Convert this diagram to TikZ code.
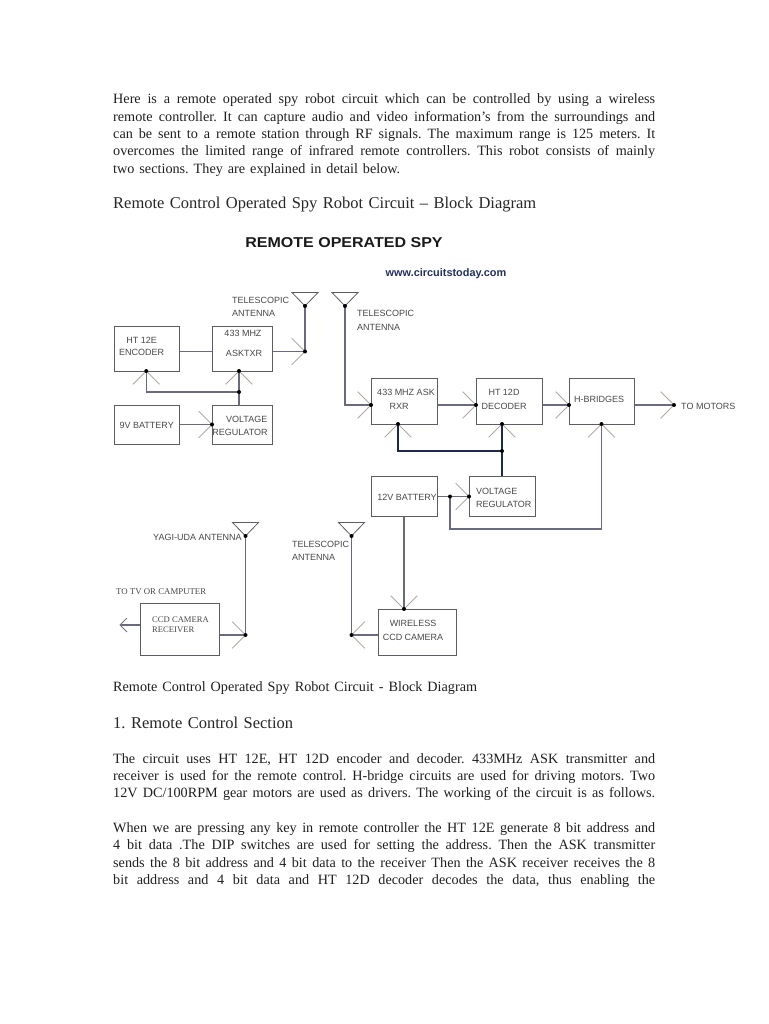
\documentclass[tikz,border=0pt]{standalone}
\usepackage{fontspec}
\setmainfont{Liberation Serif}
\newfontfamily\labelfont{Liberation Sans}
\newfontfamily\titlefont[FakeStretch=1.12]{Liberation Sans}
\newcommand\bodygap{\spaceskip=.35em plus .4em minus .05em\relax}
\newcommand\headgap{\spaceskip=.33em\relax}
\definecolor{wirecol}{HTML}{6A6A7E}
\definecolor{barbcol}{HTML}{B3A9A2}
\definecolor{boxcol}{HTML}{5C5D63}
\definecolor{urlcol}{HTML}{23305E}
\tikzset{
  block/.style={draw=boxcol, line width=1.1pt, inner sep=0pt, anchor=north west},
  wire/.style={draw=wirecol, line width=1.1pt},
  darkwire/.style={draw=urlcol!85!black, line width=1.1pt},
  lbl/.style={inner sep=0pt, text=black!72, font=\labelfont\fontsize{9}{10}\selectfont},
  lblw/.style={lbl, anchor=west},
  bodyline/.style={inner sep=0pt, anchor=base west, text=black!88, font=\fontsize{14.2}{16}\selectfont},
  headline/.style={inner sep=0pt, anchor=base west, text=black!85, font=\fontsize{16.5}{19}\selectfont},
  pics/barbdot/.style={code={
    \draw[barbcol, line width=0.8pt] (-13.3,13.3) -- (0,0) -- (-13.3,-13.3);
    \fill[black] (0,0) circle (2);
  }},
  pics/aerial/.style={code={
    \draw[boxcol, line width=0.8pt] (-13,-13.5) -- (13,-13.5) -- (0,0) -- cycle;
    \fill[black] (0,0) circle (2);
  }}
}
\begin{document}
\frenchspacing
\begin{tikzpicture}[x=1pt, y=-1pt]
  \useasboundingbox (0,0) rectangle (768,1024);

  % Page text
  \foreach \y/\t [count=\i] in {
    104/{Here is a remote operated spy robot circuit which can be controlled by using a wireless},
    121.5/{remote controller. It can capture audio and video information’s from the surroundings and},
    139/{can be sent to a remote station through RF signals. The maximum range is 125 meters. It},
    156/{overcomes the limited range of infrared remote controllers. This robot consists of mainly},
    763/{The circuit uses HT 12E, HT 12D encoder and decoder. 433MHz ASK transmitter and},
    780/{receiver is used for the remote control. H-bridge circuits are used for driving motors. Two},
    797/{12V DC/100RPM gear motors are used as drivers. The working of the circuit is as follows.},
    832/{When we are pressing any key in remote controller the HT 12E generate 8 bit address and},
    849.5/{4 bit data .The DIP switches are used for setting the address. Then the ASK transmitter},
    867/{sends the 8 bit address and 4 bit data to the receiver Then the ASK receiver receives the 8},
    884.5/{bit address and 4 bit data and HT 12D decoder decodes the data, thus enabling the}}
    \node[bodyline] (line\i) at (113,\y) {\bodygap\hbox to 542pt{\t}};
  \node[bodyline] (lastline) at (113,173.5) {\bodygap two sections. They are explained in detail below.};
  \node[headline] (heading) at (113,209) {\headgap Remote Control Operated Spy Robot Circuit – Block Diagram};
  \node[bodyline] (caption) at (113,691) {\bodygap Remote Control Operated Spy Robot Circuit - Block Diagram};
  \node[headline] (section) at (113,728) {\headgap 1. Remote Control Section};

  % Title
  \node[inner sep=0pt, font=\titlefont\bfseries\fontsize{14.3}{16}\selectfont, text=black!90] (title) at (344,243) {REMOTE OPERATED SPY};
  \node[inner sep=0pt, font=\labelfont\bfseries\fontsize{10.9}{12}\selectfont, text=urlcol] (url) at (446,273.5) {www.circuitstoday.com};

  % Blocks
  \node[block, minimum width=65.5pt, minimum height=45pt] (enc) at (113.5,326) {};
  \node[block, minimum width=60pt, minimum height=45pt] (txr) at (212,326) {};
  \node[block, minimum width=65.5pt, minimum height=39pt] (batnine) at (113.5,405) {};
  \node[block, minimum width=60pt, minimum height=39pt] (regtx) at (212,405) {};
  \node[block, minimum width=66pt, minimum height=46pt] (rxr) at (371,378) {};
  \node[block, minimum width=66pt, minimum height=46pt] (dec) at (476,378) {};
  \node[block, minimum width=65pt, minimum height=46pt] (hbr) at (569,378) {};
  \node[block, minimum width=66pt, minimum height=40pt] (battwelve) at (371,476) {};
  \node[block, minimum width=66pt, minimum height=40pt] (regrx) at (469,476) {};
  \node[block, minimum width=79pt, minimum height=52pt] (ccdrx) at (140,603) {};
  \node[block, minimum width=78pt, minimum height=46pt] (cam) at (378,609) {};

  % Block labels
  \node[lbl] (t1) at (141.7,340) {HT 12E};
  \node[lbl] (t2) at (141.7,352.7) {ENCODER};
  \node[lbl] (t3) at (243,333) {433 MHZ};
  \node[lbl] (t4) at (244,353) {ASKTXR};
  \node[lbl] (t5) at (146.7,425.7) {9V BATTERY};
  \node[lbl] (t6) at (246.7,419) {VOLTAGE};
  \node[lbl] (t7) at (240,432) {REGULATOR};
  \node[lbl] (t8) at (406,392) {433 MHZ ASK};
  \node[lbl] (t9) at (399,406) {RXR};
  \node[lbl] (t10) at (504,392) {HT 12D};
  \node[lbl] (t11) at (504,406) {DECODER};
  \node[lbl] (t12) at (599,399) {H-BRIDGES};
  \node[lbl] (t13) at (407,497) {12V BATTERY};
  \node[lblw] (t14) at (476,491) {VOLTAGE};
  \node[lblw] (t15) at (476,504) {REGULATOR};
  \node[lbl] (t16) at (413,623) {WIRELESS};
  \node[lbl] (t17) at (413,637) {CCD CAMERA};
  \node[lblw, font=\fontsize{8.6}{10}\selectfont] (t18) at (152,620) {CCD CAMERA};
  \node[lblw, font=\fontsize{8.6}{10}\selectfont] (t19) at (152,630) {RECEIVER};

  % Free labels
  \node[lblw] (a1) at (232,300) {TELESCOPIC};
  \node[lblw] (a2) at (232,313) {ANTENNA};
  \node[lblw] (a3) at (357,313) {TELESCOPIC};
  \node[lblw] (a4) at (357,327) {ANTENNA};
  \node[lblw] (a5) at (292,544) {TELESCOPIC};
  \node[lblw] (a6) at (292,557) {ANTENNA};
  \node[lblw] (a7) at (153,537) {YAGI-UDA ANTENNA};
  \node[lblw] (a8) at (681,406) {TO MOTORS};
  \node[lblw, font=\fontsize{8.8}{10}\selectfont] (a9) at (116,592) {TO TV OR CAMPUTER};

  % Junctions and antenna feet
  \coordinate (feedone) at (305,306);
  \coordinate (feedtwo) at (345,306);
  \coordinate (feedyagi) at (245.5,536);
  \coordinate (feedcam) at (351.5,536);
  \coordinate (txout) at (305,351.5);
  \coordinate (enctop) at (146.25,371);
  \coordinate (txin) at (239,371);
  \coordinate (txbus) at (239,392);
  \coordinate (regin) at (212,424.5);
  \coordinate (rxin) at (371,405);
  \coordinate (decin) at (476,405);
  \coordinate (hbrin) at (569,405);
  \coordinate (motors) at (674,405);
  \coordinate (rxpwr) at (398,424);
  \coordinate (decpwr) at (502,424);
  \coordinate (hbrpwr) at (601.5,424);
  \coordinate (rxbus) at (502,451);
  \coordinate (regrxin) at (469,496.5);
  \coordinate (batout) at (450,496.5);
  \coordinate (campwr) at (404,609);
  \coordinate (camout) at (351.5,635);
  \coordinate (ccdin) at (245.5,635);
  \coordinate (tvout) at (120,625);

  % Left group wires
  \draw[wire] (enc.east |- txout) -- (txr.west |- txout);
  \draw[wire] (txr.east |- txout) -- (txout) -- (feedone);
  \draw[wire] (enctop) -- (enctop |- txbus) -- (txbus);
  \draw[wire] (txin) -- (regtx.north -| txin);
  \draw[wire] (batnine.east |- regin) -- (regin);
  \draw[wire] (feedtwo) -- (feedtwo |- rxin) -- (rxin);

  % Right group wires
  \draw[wire] (rxr.east |- rxin) -- (decin);
  \draw[wire] (dec.east |- rxin) -- (hbrin);
  \draw[wire] (hbr.east |- rxin) -- (motors);
  \draw[darkwire] (rxpwr) -- (rxpwr |- rxbus) -- (rxbus);
  \draw[darkwire] (decpwr) -- (regrx.north -| decpwr);
  \draw[wire] (battwelve.east |- regrxin) -- (regrxin);
  \draw[wire] (batout) -- (450,529) -- (hbrpwr |- 0,529) -- (hbrpwr);
  \draw[wire, line width=1.4pt] (battwelve.south -| campwr) -- (campwr);

  % Bottom wires
  \draw[wire] (feedyagi) -- (ccdin) -- (ccdrx.east |- ccdin);
  \draw[wire] (feedcam) -- (camout) -- (cam.west |- camout);
  \draw[wire] (ccdrx.west |- tvout) -- (tvout);
  \draw[barbcol!70!black, line width=0.8pt] (127,618) -- (tvout) -- (127,632);

  % Arrow marks
  \pic[rotate=0] at (txout) {barbdot};
  \pic[rotate=90] at (enctop) {barbdot};
  \pic[rotate=90] at (txin) {barbdot};
  \pic[rotate=0] at (regin) {barbdot};
  \pic[rotate=0] at (rxin) {barbdot};
  \pic[rotate=0] at (decin) {barbdot};
  \pic[rotate=0] at (hbrin) {barbdot};
  \pic[rotate=0] at (motors) {barbdot};
  \pic[rotate=90] at (rxpwr) {barbdot};
  \pic[rotate=90] at (decpwr) {barbdot};
  \pic[rotate=90] at (hbrpwr) {barbdot};
  \pic[rotate=0] at (regrxin) {barbdot};
  \pic[rotate=-90] at (campwr) {barbdot};
  \pic[rotate=180] at (camout) {barbdot};
  \pic[rotate=0] at (ccdin) {barbdot};

  % Junction dots
  \fill (txbus) circle (2);
  \fill (rxbus) circle (2);
  \fill (batout) circle (2);

  % Antennas
  \pic at (feedone) {aerial};
  \pic at (feedtwo) {aerial};
  \pic at (feedyagi) {aerial};
  \pic at (feedcam) {aerial};
\end{tikzpicture}
\end{document}
